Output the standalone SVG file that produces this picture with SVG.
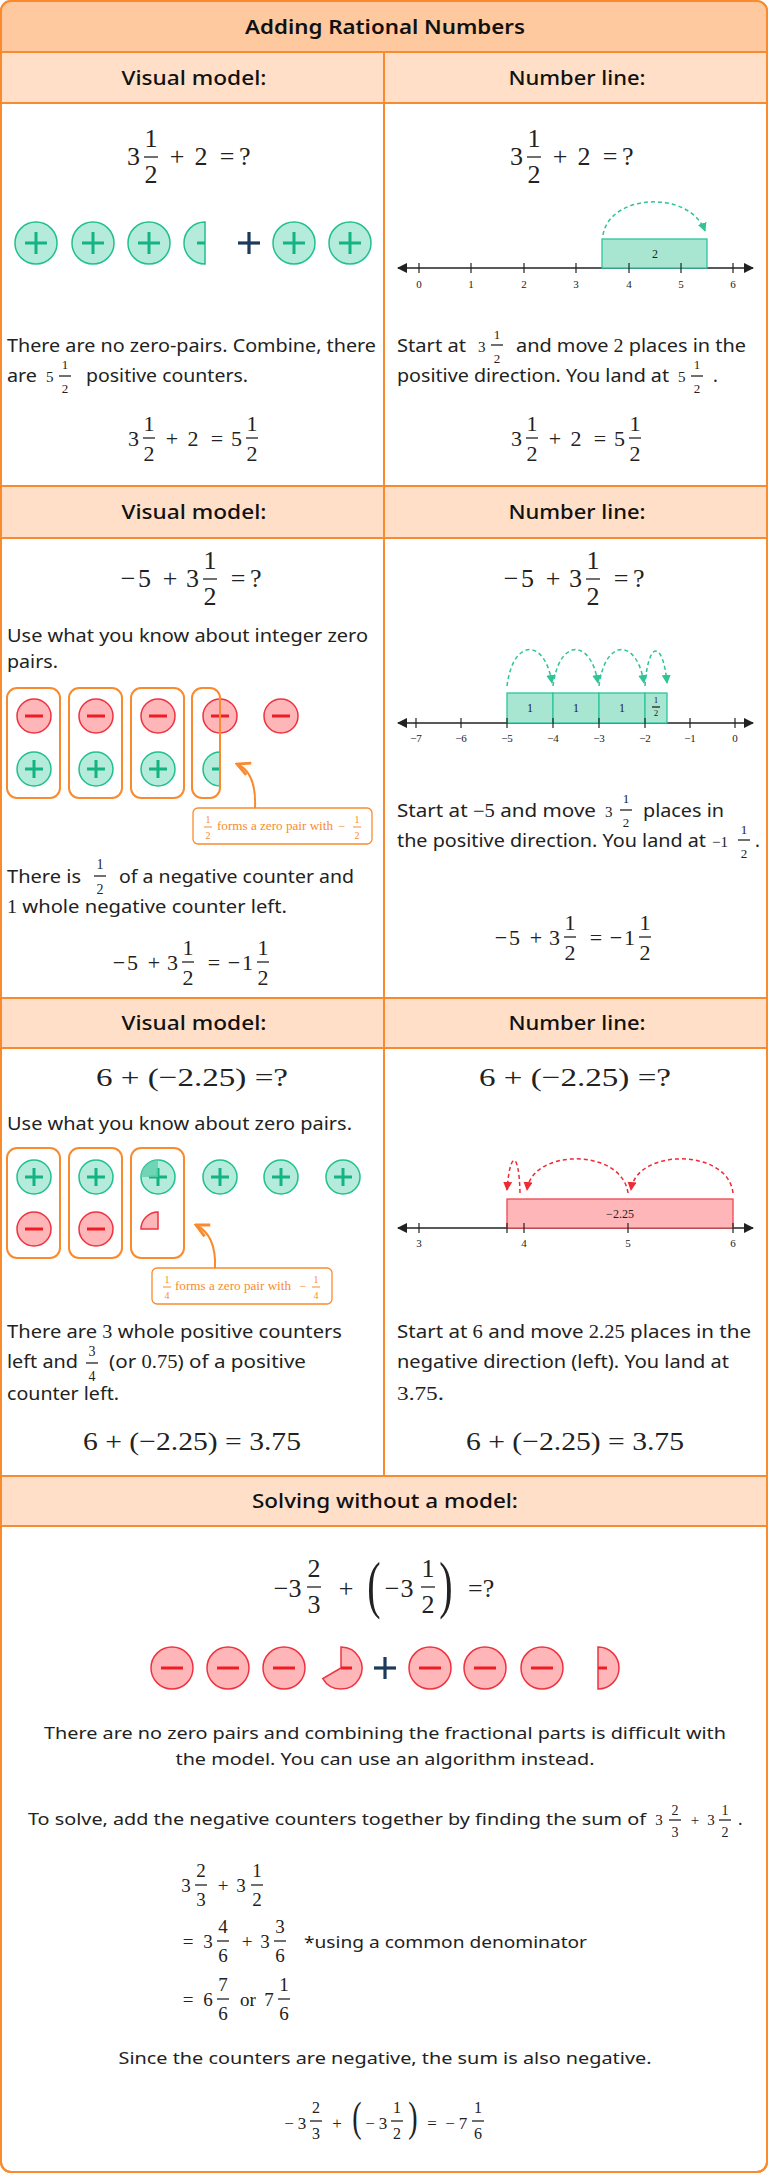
<svg xmlns="http://www.w3.org/2000/svg" xmlns:xlink="http://www.w3.org/1999/xlink" width="768" height="2173" viewBox="0 0 768 2173">
<style>
.t{font-family:"Noto Sans",sans-serif;font-size:18px;fill:#222}
.tb{font-family:"Noto Sans",sans-serif;font-size:17px;fill:#222}
.h{font-family:"Noto Sans",sans-serif;font-size:19px;fill:#111;font-weight:500;text-anchor:middle}
.m{font-family:"Liberation Serif",serif;font-size:26px;fill:#222}
.m2{font-family:"Liberation Serif",serif;font-size:22px;fill:#222}
.m3{font-family:"Liberation Serif",serif;font-size:19px;fill:#222}
.ms{font-family:"Liberation Serif",serif;font-size:15px;fill:#222}
.f13{font-size:13px}
.f14{font-size:14px}
.f16{font-size:16px}
.f17{font-size:17px}
.c{text-anchor:middle}
.bar{stroke:#222;stroke-width:1.3}
.nl{font-family:"Liberation Serif",serif;font-size:11px;fill:#222;text-anchor:middle}
.ol{stroke:#F98B2E;fill:none;stroke-width:2}
.ob{font-family:"Liberation Serif",serif;font-size:12px;fill:#F98B2E}
.obs{font-family:"Liberation Serif",serif;font-size:10px;fill:#F98B2E;text-anchor:middle}
.obar{stroke:#F98B2E;stroke-width:1}
.axis{stroke:#222;stroke-width:1.5}
.tick{stroke:#222;stroke-width:1.2}
.gd{stroke:#2EC495;stroke-width:1.5;fill:none;stroke-dasharray:4 3}
.rd{stroke:#EE2A36;stroke-width:1.5;fill:none;stroke-dasharray:4 3}
.pf{fill:#B4EBDA;stroke:#22C08F;stroke-width:1.5}
.nf{fill:#FFB6B8;stroke:#EF3340;stroke-width:1.5}
.ps{stroke:#14B383;stroke-width:3}
.ns{stroke:#EE1C25;stroke-width:3}
</style>
<defs>
<marker id="ah" viewBox="0 0 10 10" refX="9" refY="5" markerWidth="7" markerHeight="7" orient="auto-start-reverse"><path d="M0,0 L10,5 L0,10 Z" fill="#222"/></marker>
<marker id="ga" viewBox="0 0 10 10" refX="9" refY="5" markerWidth="6" markerHeight="6" orient="auto"><path d="M0,0 L10,5 L0,10 Z" fill="#2EC495"/></marker>
<marker id="ra" viewBox="0 0 10 10" refX="9" refY="5" markerWidth="6" markerHeight="6" orient="auto"><path d="M0,0 L10,5 L0,10 Z" fill="#EE2A36"/></marker>
<marker id="oa" viewBox="0 0 10 10" refX="9" refY="5" markerWidth="8" markerHeight="8" orient="auto"><path d="M1,1 L9,5 L1,9" fill="none" stroke="#F98B2E" stroke-width="1.8"/></marker>
<g id="p21"><circle r="21" class="pf"/><line x1="-11" x2="11" class="ps"/><line y1="-11" y2="11" class="ps"/></g>
<g id="p17"><circle r="17" class="pf"/><line x1="-9" x2="9" class="ps"/><line y1="-9" y2="9" class="ps"/></g>
<g id="n17"><circle r="17" class="nf"/><line x1="-9" x2="9" class="ns"/></g>
<g id="n21"><circle r="21" class="nf"/><line x1="-11" x2="11" class="ns"/></g>
</defs>

<g id="frame">
<rect x="1" y="1" width="766" height="2171" rx="10" fill="#fff" stroke="#F98B2E" stroke-width="2"/>
<path d="M1,52 V11 A10,10 0 0 1 11,1 H757 A10,10 0 0 1 767,11 V52 Z" fill="#FFC9A0"/>
<rect x="1" y="52" width="766" height="51" fill="#FFDFC8"/>
<rect x="1" y="486" width="766" height="52" fill="#FFDFC8"/>
<rect x="1" y="998" width="766" height="50" fill="#FFDFC8"/>
<rect x="1" y="1476" width="766" height="50" fill="#FFDFC8"/>
<g stroke="#F98B2E" stroke-width="2">
<line x1="1" y1="52" x2="767" y2="52"/><line x1="1" y1="103" x2="767" y2="103"/>
<line x1="1" y1="486" x2="767" y2="486"/><line x1="1" y1="538" x2="767" y2="538"/>
<line x1="1" y1="998" x2="767" y2="998"/><line x1="1" y1="1048" x2="767" y2="1048"/>
<line x1="1" y1="1476" x2="767" y2="1476"/><line x1="1" y1="1526" x2="767" y2="1526"/>
<line x1="384" y1="52" x2="384" y2="1476"/>
</g>
<rect x="1" y="1" width="766" height="2171" rx="10" fill="none" stroke="#F98B2E" stroke-width="2"/>
</g>

<g id="headers">
<text class="h" x="385" y="34" style="font-weight:600" textLength="280" lengthAdjust="spacingAndGlyphs">Adding Rational Numbers</text>
<text class="h" x="194" y="85" textLength="145" lengthAdjust="spacingAndGlyphs">Visual model:</text>
<text class="h" x="577" y="85" textLength="137" lengthAdjust="spacingAndGlyphs">Number line:</text>
<text class="h" x="194" y="519" textLength="145" lengthAdjust="spacingAndGlyphs">Visual model:</text>
<text class="h" x="577" y="519" textLength="137" lengthAdjust="spacingAndGlyphs">Number line:</text>
<text class="h" x="194" y="1030" textLength="145" lengthAdjust="spacingAndGlyphs">Visual model:</text>
<text class="h" x="577" y="1030" textLength="137" lengthAdjust="spacingAndGlyphs">Number line:</text>
<text class="h" x="385" y="1508" textLength="266" lengthAdjust="spacingAndGlyphs">Solving without a model:</text>
</g>

<!-- Section 1 -->
<g id="eq1">
<g id="eqA" transform="translate(127,165)">
<text class="m" x="0" y="0">3</text>
<text class="m c" x="24" y="-18">1</text><line class="bar" x1="17" y1="-8" x2="31" y2="-8"/><text class="m c" x="24" y="18">2</text>
<text class="m c" x="50" y="0">+</text><text class="m c" x="74" y="0">2</text><text class="m c" x="100" y="0">=</text><text class="m" x="112" y="0">?</text>
</g>
<use xlink:href="#eqA" href="#eqA" x="383" y="0"/>
</g>
<g id="counters1">
<use href="#p21" xlink:href="#p21" x="36" y="243"/><use href="#p21" xlink:href="#p21" x="93" y="243"/><use href="#p21" xlink:href="#p21" x="149" y="243"/>
<path d="M205,222 A21,21 0 0 0 205,264 Z" class="pf"/><line x1="197" y1="243" x2="205" y2="243" class="ps"/>
<line x1="238" y1="243" x2="260" y2="243" stroke="#1B3A5C" stroke-width="3.2"/><line x1="249" y1="232" x2="249" y2="254" stroke="#1B3A5C" stroke-width="3.2"/>
<use href="#p21" xlink:href="#p21" x="294" y="243"/><use href="#p21" xlink:href="#p21" x="350" y="243"/>
</g>
<g id="text1">
<text class="t" x="7" y="352" textLength="369" lengthAdjust="spacingAndGlyphs">There are no zero-pairs. Combine, there</text>
<text class="t" x="7" y="382" textLength="30" lengthAdjust="spacingAndGlyphs">are</text>
<text class="ms" x="46" y="382">5</text><text class="ms c f13" x="65" y="369">1</text><line class="bar" x1="59" y1="376" x2="71" y2="376"/><text class="ms c f13" x="65" y="393">2</text>
<text class="t" x="86" y="382" textLength="162" lengthAdjust="spacingAndGlyphs">positive counters.</text>
<g id="eqA2" transform="translate(128,446)">
<text class="m2" x="0" y="0">3</text>
<text class="m2 c" x="21" y="-15">1</text><line class="bar" x1="15" y1="-8" x2="27" y2="-8"/><text class="m2 c" x="21" y="15">2</text>
<text class="m2 c" x="44" y="0">+</text><text class="m2 c" x="65" y="0">2</text><text class="m2 c" x="89" y="0">=</text>
<text class="m2" x="103" y="0">5</text>
<text class="m2 c" x="124" y="-15">1</text><line class="bar" x1="118" y1="-8" x2="130" y2="-8"/><text class="m2 c" x="124" y="15">2</text>
</g>
<use href="#eqA2" xlink:href="#eqA2" x="383" y="0"/>
<text class="t" x="397" y="352" textLength="69" lengthAdjust="spacingAndGlyphs">Start at</text>
<text class="ms" x="478" y="352">3</text><text class="ms c f13" x="497" y="339">1</text><line class="bar" x1="491" y1="345" x2="503" y2="345"/><text class="ms c f13" x="497" y="363">2</text>
<text class="t" x="516" y="352" textLength="230" lengthAdjust="spacingAndGlyphs">and move <tspan font-family="Liberation Serif">2</tspan> places in the</text>
<text class="t" x="397" y="382" textLength="272" lengthAdjust="spacingAndGlyphs">positive direction. You land at</text>
<text class="ms" x="678" y="382">5</text><text class="ms c f13" x="697" y="369">1</text><line class="bar" x1="691" y1="376" x2="703" y2="376"/><text class="ms c f13" x="697" y="393">2</text>
<text class="t" x="713" y="382">.</text>
</g>
<g id="numberline1">
<line class="axis" x1="398" y1="268" x2="753" y2="268" marker-start="url(#ah)" marker-end="url(#ah)"/>
<rect x="602" y="239" width="105" height="29" fill="#A8E6D2" stroke="#2CC59A" stroke-width="1.3"/>
<text class="nl" x="655" y="258" style="font-size:12px">2</text>
<g class="tick">
<line x1="419" y1="263" x2="419" y2="273"/><line x1="471" y1="263" x2="471" y2="273"/><line x1="524" y1="263" x2="524" y2="273"/><line x1="576" y1="263" x2="576" y2="273"/><line x1="629" y1="263" x2="629" y2="273"/><line x1="681" y1="263" x2="681" y2="273"/><line x1="733" y1="263" x2="733" y2="273"/>
</g>
<text class="nl" x="419" y="288">0</text><text class="nl" x="471" y="288">1</text><text class="nl" x="524" y="288">2</text><text class="nl" x="576" y="288">3</text><text class="nl" x="629" y="288">4</text><text class="nl" x="681" y="288">5</text><text class="nl" x="733" y="288">6</text>
<path class="gd" d="M603,235 C610,193 690,190 705,231" marker-end="url(#ga)"/>
</g>

<!-- Section 2 -->
<g id="eq2">
<g id="eqB" transform="translate(120,587)">
<text class="m c" x="8" y="0">−</text><text class="m" x="18" y="0">5</text>
<text class="m c" x="50" y="0">+</text><text class="m" x="66" y="0">3</text>
<text class="m c" x="90" y="-18">1</text><line class="bar" x1="83" y1="-8" x2="97" y2="-8"/><text class="m c" x="90" y="18">2</text>
<text class="m c" x="118" y="0">=</text><text class="m" x="130" y="0">?</text>
</g>
<use href="#eqB" xlink:href="#eqB" x="383" y="0"/>
</g>
<g id="model2">
<text class="t" x="7" y="642" textLength="361" lengthAdjust="spacingAndGlyphs">Use what you know about integer zero</text>
<text class="t" x="7" y="668" textLength="51" lengthAdjust="spacingAndGlyphs">pairs.</text>
<use href="#n17" xlink:href="#n17" x="34" y="716"/><use href="#n17" xlink:href="#n17" x="96" y="716"/><use href="#n17" xlink:href="#n17" x="158" y="716"/><use href="#n17" xlink:href="#n17" x="220" y="716"/><use href="#n17" xlink:href="#n17" x="281" y="716"/>
<use href="#p17" xlink:href="#p17" x="34" y="769"/><use href="#p17" xlink:href="#p17" x="96" y="769"/><use href="#p17" xlink:href="#p17" x="158" y="769"/>
<path d="M220,752 A17,17 0 0 0 220,786 Z" class="pf"/><line x1="212" y1="769" x2="220" y2="769" class="ps"/>
<rect class="ol" x="7" y="688" width="53" height="110" rx="10"/>
<rect class="ol" x="69" y="688" width="53" height="110" rx="10"/>
<rect class="ol" x="131" y="688" width="53" height="110" rx="10"/>
<rect class="ol" x="192" y="688" width="28" height="110" rx="10"/>
<path class="ol" d="M255,808 C256,786 251,770 237,764" marker-end="url(#oa)"/>
<rect x="193" y="808" width="179" height="36" rx="5" fill="#fff" stroke="#F98B2E" stroke-width="1.3"/>
<text class="obs" x="208" y="823">1</text><line class="obar" x1="204" y1="827" x2="212" y2="827"/><text class="obs" x="208" y="839">2</text>
<text class="ob" x="217" y="830" textLength="116" lengthAdjust="spacingAndGlyphs">forms a zero pair with</text>
<text class="ob c" x="342" y="830">−</text>
<text class="obs" x="357" y="823">1</text><line class="obar" x1="353" y1="827" x2="361" y2="827"/><text class="obs" x="357" y="839">2</text>
<text class="t" x="7" y="883" textLength="74" lengthAdjust="spacingAndGlyphs">There is</text>
<text class="ms c f14" x="100" y="869">1</text><line class="bar" x1="94" y1="876" x2="106" y2="876"/><text class="ms c f14" x="100" y="894">2</text>
<text class="t" x="119" y="883" textLength="235" lengthAdjust="spacingAndGlyphs">of a negative counter and</text>
<text class="t" x="7" y="913" textLength="280" lengthAdjust="spacingAndGlyphs"><tspan font-family="Liberation Serif">1</tspan> whole negative counter left.</text>
<g id="eqB2" transform="translate(112,970)">
<text class="m2 c" x="7" y="0">−</text><text class="m2" x="15" y="0">5</text>
<text class="m2 c" x="42" y="0">+</text><text class="m2" x="55" y="0">3</text>
<text class="m2 c" x="76" y="-15">1</text><line class="bar" x1="70" y1="-8" x2="82" y2="-8"/><text class="m2 c" x="76" y="15">2</text>
<text class="m2 c" x="102" y="0">=</text><text class="m2 c" x="122" y="0">−</text><text class="m2" x="130" y="0">1</text>
<text class="m2 c" x="151" y="-15">1</text><line class="bar" x1="145" y1="-8" x2="157" y2="-8"/><text class="m2 c" x="151" y="15">2</text>
</g>
</g>
<g id="numberline2">
<line class="axis" x1="398" y1="723" x2="753" y2="723" marker-start="url(#ah)" marker-end="url(#ah)"/>
<g fill="#A8E6D2" stroke="#2CC59A" stroke-width="1.3">
<rect x="507" y="693" width="46" height="30"/><rect x="553" y="693" width="46" height="30"/><rect x="599" y="693" width="46" height="30"/><rect x="645" y="693" width="22" height="30"/>
</g>
<text class="nl" x="530" y="712" style="font-size:12px">1</text><text class="nl" x="576" y="712" style="font-size:12px">1</text><text class="nl" x="622" y="712" style="font-size:12px">1</text>
<text class="nl" x="656" y="703" style="font-size:9px">1</text><line class="bar" x1="652" y1="707" x2="660" y2="707" stroke-width="0.8"/><text class="nl" x="656" y="716" style="font-size:9px">2</text>
<g class="tick">
<line x1="416" y1="718" x2="416" y2="728"/><line x1="461" y1="718" x2="461" y2="728"/><line x1="507" y1="718" x2="507" y2="728"/><line x1="553" y1="718" x2="553" y2="728"/><line x1="599" y1="718" x2="599" y2="728"/><line x1="645" y1="718" x2="645" y2="728"/><line x1="690" y1="718" x2="690" y2="728"/><line x1="735" y1="718" x2="735" y2="728"/>
</g>
<text class="nl" x="416" y="742">−7</text><text class="nl" x="461" y="742">−6</text><text class="nl" x="507" y="742">−5</text><text class="nl" x="553" y="742">−4</text><text class="nl" x="599" y="742">−3</text><text class="nl" x="645" y="742">−2</text><text class="nl" x="690" y="742">−1</text><text class="nl" x="735" y="742">0</text>
<path class="gd" d="M507,686 C513,638 545,638 552,683" marker-end="url(#ga)"/>
<path class="gd" d="M553,686 C559,638 591,638 598,683" marker-end="url(#ga)"/>
<path class="gd" d="M599,686 C605,638 637,638 644,683" marker-end="url(#ga)"/>
<path class="gd" d="M645,686 C648,640 663,640 667,683" marker-end="url(#ga)"/>
<text class="t" x="397" y="817" textLength="199" lengthAdjust="spacingAndGlyphs">Start at <tspan font-family="Liberation Serif">−5</tspan> and move</text>
<text class="ms" x="605" y="817">3</text><text class="ms c f13" x="626" y="803">1</text><line class="bar" x1="620" y1="810" x2="632" y2="810"/><text class="ms c f13" x="626" y="827">2</text>
<text class="t" x="643" y="817" textLength="81" lengthAdjust="spacingAndGlyphs">places in</text>
<text class="t" x="397" y="847" textLength="309" lengthAdjust="spacingAndGlyphs">the positive direction. You land at</text>
<text class="ms" x="712" y="847">−1</text><text class="ms c f13" x="744" y="834">1</text><line class="bar" x1="738" y1="840" x2="750" y2="840"/><text class="ms c f13" x="744" y="858">2</text>
<text class="t" x="755" y="847">.</text>
<use href="#eqB2" xlink:href="#eqB2" x="382" y="-25"/>
</g>

<!-- Section 3 -->
<g id="eq3">
<text class="m c" x="192" y="1086" textLength="192" lengthAdjust="spacingAndGlyphs">6 + (−2.25) =?</text>
<text class="m c" x="575" y="1086" textLength="192" lengthAdjust="spacingAndGlyphs">6 + (−2.25) =?</text>
</g>
<g id="model3">
<text class="t" x="7" y="1130" textLength="345" lengthAdjust="spacingAndGlyphs">Use what you know about zero pairs.</text>
<use href="#p17" xlink:href="#p17" x="34" y="1177"/><use href="#p17" xlink:href="#p17" x="96" y="1177"/><use href="#p17" xlink:href="#p17" x="158" y="1177"/>
<path d="M158,1177 L158,1160 A17,17 0 0 0 141,1177 Z" fill="#5FD0AA" opacity="0.8"/>
<use href="#p17" xlink:href="#p17" x="220" y="1177"/><use href="#p17" xlink:href="#p17" x="281" y="1177"/><use href="#p17" xlink:href="#p17" x="343" y="1177"/>
<use href="#n17" xlink:href="#n17" x="34" y="1229"/><use href="#n17" xlink:href="#n17" x="96" y="1229"/>
<path d="M158,1229 L141,1229 A17,17 0 0 1 158,1212 Z" class="nf"/>
<rect class="ol" x="7" y="1148" width="53" height="110" rx="10"/>
<rect class="ol" x="69" y="1148" width="53" height="110" rx="10"/>
<rect class="ol" x="131" y="1148" width="53" height="110" rx="10"/>
<path class="ol" d="M215,1268 C216,1246 210,1232 196,1225" marker-end="url(#oa)"/>
<rect x="152" y="1268" width="180" height="36" rx="5" fill="#fff" stroke="#F98B2E" stroke-width="1.3"/>
<text class="obs" x="167" y="1283">1</text><line class="obar" x1="163" y1="1287" x2="171" y2="1287"/><text class="obs" x="167" y="1299">4</text>
<text class="ob" x="175" y="1290" textLength="116" lengthAdjust="spacingAndGlyphs">forms a zero pair with</text>
<text class="ob c" x="303" y="1290">−</text>
<text class="obs" x="316" y="1283">1</text><line class="obar" x1="312" y1="1287" x2="320" y2="1287"/><text class="obs" x="316" y="1299">4</text>
<text class="t" x="7" y="1338" textLength="335" lengthAdjust="spacingAndGlyphs">There are <tspan font-family="Liberation Serif">3</tspan> whole positive counters</text>
<text class="t" x="7" y="1368" textLength="71" lengthAdjust="spacingAndGlyphs">left and</text>
<text class="ms c f14" x="92" y="1356">3</text><line class="bar" x1="86" y1="1363" x2="98" y2="1363"/><text class="ms c f14" x="92" y="1381">4</text>
<text class="t" x="109" y="1368" textLength="197" lengthAdjust="spacingAndGlyphs">(or <tspan font-family="Liberation Serif">0.75</tspan>) of a positive</text>
<text class="t" x="7" y="1400" textLength="112" lengthAdjust="spacingAndGlyphs">counter left.</text>
<text class="m c" x="192" y="1450" textLength="218" lengthAdjust="spacingAndGlyphs">6 + (−2.25) = 3.75</text>
</g>
<g id="numberline3">
<line class="axis" x1="398" y1="1228" x2="753" y2="1228" marker-start="url(#ah)" marker-end="url(#ah)"/>
<rect x="507" y="1199" width="226" height="29" fill="#FFB6B8" stroke="#EF4552" stroke-width="1.3"/>
<text class="nl" x="620" y="1218" style="font-size:12px">−2.25</text>
<g class="tick">
<line x1="419" y1="1223" x2="419" y2="1233"/><line x1="507" y1="1223" x2="507" y2="1233"/><line x1="524" y1="1223" x2="524" y2="1233"/><line x1="628" y1="1223" x2="628" y2="1233"/><line x1="733" y1="1223" x2="733" y2="1233"/>
</g>
<text class="nl" x="419" y="1247">3</text><text class="nl" x="524" y="1247">4</text><text class="nl" x="628" y="1247">5</text><text class="nl" x="733" y="1247">6</text>
<path class="rd" d="M733,1193 C728,1148 636,1148 631,1190" marker-end="url(#ra)"/>
<path class="rd" d="M628,1193 C622,1148 532,1148 527,1190" marker-end="url(#ra)"/>
<path class="rd" d="M520,1193 C519,1150 510,1150 507,1190" marker-end="url(#ra)"/>
<text class="t" x="397" y="1338" textLength="354" lengthAdjust="spacingAndGlyphs">Start at <tspan font-family="Liberation Serif">6</tspan> and move <tspan font-family="Liberation Serif">2.25</tspan> places in the</text>
<text class="t" x="397" y="1368" textLength="332" lengthAdjust="spacingAndGlyphs">negative direction (left). You land at</text>
<text class="t" x="397" y="1400" textLength="47" lengthAdjust="spacingAndGlyphs"><tspan font-family="Liberation Serif">3.75</tspan>.</text>
<text class="m c" x="575" y="1450" textLength="218" lengthAdjust="spacingAndGlyphs">6 + (−2.25) = 3.75</text>
</g>

<!-- Section 4 -->
<g id="eq4">
<text class="m c" x="281" y="1597">−</text><text class="m c" x="295" y="1597">3</text>
<text class="m c" x="314" y="1577">2</text><line class="bar" x1="307" y1="1587" x2="321" y2="1587"/><text class="m c" x="314" y="1613">3</text>
<text class="m c" x="346" y="1597">+</text>
<text class="m c" transform="translate(374,1590) scale(1,1.6)" x="0" y="10" style="font-size:40px">(</text>
<text class="m c" x="392" y="1597">−</text><text class="m c" x="407" y="1597">3</text>
<text class="m c" x="428" y="1577">1</text><line class="bar" x1="421" y1="1587" x2="435" y2="1587"/><text class="m c" x="428" y="1613">2</text>
<text class="m c" transform="translate(446,1590) scale(1,1.6)" x="0" y="10" style="font-size:40px">)</text>
<text class="m" x="468" y="1597">=?</text>
</g>
<g id="counters4">
<use href="#n21" xlink:href="#n21" x="172" y="1668"/><use href="#n21" xlink:href="#n21" x="228" y="1668"/><use href="#n21" xlink:href="#n21" x="284" y="1668"/>
<path d="M341,1668 L341,1647 A21,21 0 1 1 322.8,1678.5 Z" class="nf"/><line x1="341" y1="1668" x2="352" y2="1668" class="ns"/>
<line x1="374" y1="1668" x2="396" y2="1668" stroke="#1B3A5C" stroke-width="3.2"/><line x1="385" y1="1657" x2="385" y2="1679" stroke="#1B3A5C" stroke-width="3.2"/>
<use href="#n21" xlink:href="#n21" x="430" y="1668"/><use href="#n21" xlink:href="#n21" x="485" y="1668"/><use href="#n21" xlink:href="#n21" x="542" y="1668"/>
<path d="M598,1647 A21,21 0 0 1 598,1689 Z" class="nf"/><line x1="598" y1="1668" x2="607" y2="1668" class="ns"/>
</g>
<g id="text4">
<text class="tb c" x="385" y="1739" textLength="682" lengthAdjust="spacingAndGlyphs">There are no zero pairs and combining the fractional parts is difficult with</text>
<text class="tb c" x="385" y="1765" textLength="419" lengthAdjust="spacingAndGlyphs">the model. You can use an algorithm instead.</text>
<text class="tb" x="28" y="1825" textLength="618" lengthAdjust="spacingAndGlyphs">To solve, add the negative counters together by finding the sum of</text>
<text class="ms c" x="659" y="1825">3</text>
<text class="ms c f14" x="675" y="1815">2</text><line class="bar" x1="669" y1="1820" x2="681" y2="1820"/><text class="ms c f14" x="675" y="1837">3</text>
<text class="ms c" x="695" y="1825">+</text><text class="ms c" x="711" y="1825">3</text>
<text class="ms c f14" x="725" y="1815">1</text><line class="bar" x1="719" y1="1820" x2="731" y2="1820"/><text class="ms c f14" x="725" y="1837">2</text>
<text class="tb" x="738" y="1825">.</text>

<text class="m3 c" x="186" y="1892">3</text>
<text class="m3 c" x="201" y="1877">2</text><line class="bar" x1="195" y1="1885" x2="207" y2="1885"/><text class="m3 c" x="201" y="1906">3</text>
<text class="m3 c" x="223" y="1892">+</text><text class="m3 c" x="241" y="1892">3</text>
<text class="m3 c" x="257" y="1877">1</text><line class="bar" x1="251" y1="1885" x2="263" y2="1885"/><text class="m3 c" x="257" y="1906">2</text>

<text class="m3 c" x="188" y="1948">=</text><text class="m3 c" x="208" y="1948">3</text>
<text class="m3 c" x="223" y="1933">4</text><line class="bar" x1="217" y1="1941" x2="229" y2="1941"/><text class="m3 c" x="223" y="1962">6</text>
<text class="m3 c" x="247" y="1948">+</text><text class="m3 c" x="265" y="1948">3</text>
<text class="m3 c" x="280" y="1933">3</text><line class="bar" x1="274" y1="1941" x2="286" y2="1941"/><text class="m3 c" x="280" y="1962">6</text>
<text class="tb" x="304" y="1948" textLength="283" lengthAdjust="spacingAndGlyphs">*using a common denominator</text>

<text class="m3 c" x="188" y="2006">=</text><text class="m3 c" x="208" y="2006">6</text>
<text class="m3 c" x="223" y="1991">7</text><line class="bar" x1="217" y1="1999" x2="229" y2="1999"/><text class="m3 c" x="223" y="2020">6</text>
<text class="m3 c" x="248" y="2006">or</text><text class="m3 c" x="269" y="2006">7</text>
<text class="m3 c" x="284" y="1991">1</text><line class="bar" x1="278" y1="1999" x2="290" y2="1999"/><text class="m3 c" x="284" y="2020">6</text>

<text class="tb c" x="385" y="2064" textLength="533" lengthAdjust="spacingAndGlyphs">Since the counters are negative, the sum is also negative.</text>

<text class="ms c f17" x="289" y="2129">−</text><text class="ms c f17" x="302" y="2129">3</text>
<text class="ms c f16" x="316" y="2113">2</text><line class="bar" x1="310" y1="2121" x2="322" y2="2121"/><text class="ms c f16" x="316" y="2139">3</text>
<text class="ms c f17" x="337" y="2129">+</text>
<text class="ms c" transform="translate(357,2120) scale(1,1.5)" x="0" y="7" style="font-size:28px">(</text>
<text class="ms c f17" x="370" y="2129">−</text><text class="ms c f17" x="383" y="2129">3</text>
<text class="ms c f16" x="397" y="2113">1</text><line class="bar" x1="391" y1="2121" x2="403" y2="2121"/><text class="ms c f16" x="397" y="2139">2</text>
<text class="ms c" transform="translate(413,2120) scale(1,1.5)" x="0" y="7" style="font-size:28px">)</text>
<text class="ms c f17" x="432" y="2129">=</text><text class="ms c f17" x="450" y="2129">−</text><text class="ms c f17" x="463" y="2129">7</text>
<text class="ms c f16" x="478" y="2113">1</text><line class="bar" x1="472" y1="2121" x2="484" y2="2121"/><text class="ms c f16" x="478" y="2139">6</text>
</g>
</svg>
